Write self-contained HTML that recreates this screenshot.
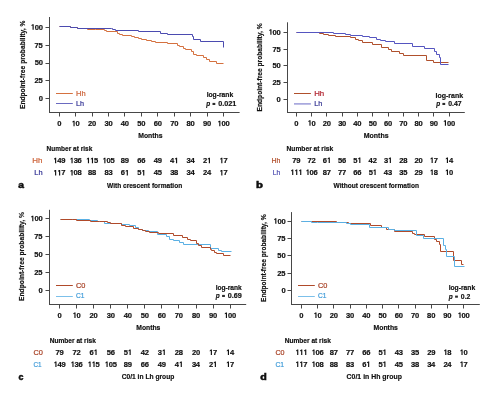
<!DOCTYPE html>
<html><head><meta charset="utf-8"><style>
html,body{margin:0;padding:0;background:#fff;}
svg{display:block;will-change:transform;}
text{font-family:"Liberation Sans",sans-serif;}
text{stroke:currentColor;stroke-width:0.2px;}
</style></head><body>
<svg width="499" height="401" viewBox="0 0 499 401">
<rect width="499" height="401" fill="#fff"/>
<line x1="49.50" y1="17.00" x2="49.50" y2="113.00" stroke="#474747" stroke-width="1.0"/>
<line x1="49.00" y1="112.50" x2="239.60" y2="112.50" stroke="#474747" stroke-width="1.0"/>
<line x1="45.50" y1="27.50" x2="49.50" y2="27.50" stroke="#474747" stroke-width="1.0"/>
<path d="M32.54,29.75 L32.54,25.50 L31.49,26.10 L31.49,25.10 L32.64,24.25 L33.69,24.25 L33.69,29.75 Z" fill="#111"/>
<text transform="translate(34.69,29.75) scale(0.950,1)" font-size="8.0" fill="#111" color="#111" font-weight="bold">0</text>
<text transform="translate(38.69,29.75) scale(0.950,1)" font-size="8.0" fill="#111" color="#111" font-weight="bold">0</text>
<line x1="45.50" y1="45.50" x2="49.50" y2="45.50" stroke="#474747" stroke-width="1.0"/>
<text transform="translate(34.60,47.60) scale(0.950,1)" font-size="8.0" fill="#111" color="#111" font-weight="bold">7</text>
<text transform="translate(38.59,47.60) scale(0.950,1)" font-size="8.0" fill="#111" color="#111" font-weight="bold">5</text>
<line x1="45.50" y1="63.50" x2="49.50" y2="63.50" stroke="#474747" stroke-width="1.0"/>
<text transform="translate(34.67,65.45) scale(0.950,1)" font-size="8.0" fill="#111" color="#111" font-weight="bold">5</text>
<text transform="translate(38.69,65.45) scale(0.950,1)" font-size="8.0" fill="#111" color="#111" font-weight="bold">0</text>
<line x1="45.50" y1="80.50" x2="49.50" y2="80.50" stroke="#474747" stroke-width="1.0"/>
<text transform="translate(34.62,83.30) scale(0.950,1)" font-size="8.0" fill="#111" color="#111" font-weight="bold">2</text>
<text transform="translate(38.59,83.30) scale(0.950,1)" font-size="8.0" fill="#111" color="#111" font-weight="bold">5</text>
<line x1="45.50" y1="98.50" x2="49.50" y2="98.50" stroke="#474747" stroke-width="1.0"/>
<text transform="translate(38.69,101.15) scale(0.950,1)" font-size="8.0" fill="#111" color="#111" font-weight="bold">0</text>
<line x1="59.50" y1="112.50" x2="59.50" y2="116.50" stroke="#474747" stroke-width="1.0"/>
<text transform="translate(57.19,126.20) scale(0.950,1)" font-size="8.0" fill="#111" color="#111" font-weight="bold">0</text>
<line x1="75.50" y1="112.50" x2="75.50" y2="116.50" stroke="#474747" stroke-width="1.0"/>
<path d="M73.47,126.20 L73.47,121.95 L72.42,122.55 L72.42,121.55 L73.57,120.70 L74.62,120.70 L74.62,126.20 Z" fill="#111"/>
<text transform="translate(75.61,126.20) scale(0.950,1)" font-size="8.0" fill="#111" color="#111" font-weight="bold">0</text>
<line x1="92.50" y1="112.50" x2="92.50" y2="116.50" stroke="#474747" stroke-width="1.0"/>
<text transform="translate(88.05,126.20) scale(0.950,1)" font-size="8.0" fill="#111" color="#111" font-weight="bold">2</text>
<text transform="translate(92.03,126.20) scale(0.950,1)" font-size="8.0" fill="#111" color="#111" font-weight="bold">0</text>
<line x1="108.50" y1="112.50" x2="108.50" y2="116.50" stroke="#474747" stroke-width="1.0"/>
<text transform="translate(104.50,126.20) scale(0.950,1)" font-size="8.0" fill="#111" color="#111" font-weight="bold">3</text>
<text transform="translate(108.45,126.20) scale(0.950,1)" font-size="8.0" fill="#111" color="#111" font-weight="bold">0</text>
<line x1="124.50" y1="112.50" x2="124.50" y2="116.50" stroke="#474747" stroke-width="1.0"/>
<text transform="translate(120.83,126.20) scale(0.950,1)" font-size="8.0" fill="#111" color="#111" font-weight="bold">4</text>
<text transform="translate(124.87,126.20) scale(0.950,1)" font-size="8.0" fill="#111" color="#111" font-weight="bold">0</text>
<line x1="141.50" y1="112.50" x2="141.50" y2="116.50" stroke="#474747" stroke-width="1.0"/>
<text transform="translate(137.28,126.20) scale(0.950,1)" font-size="8.0" fill="#111" color="#111" font-weight="bold">5</text>
<text transform="translate(141.29,126.20) scale(0.950,1)" font-size="8.0" fill="#111" color="#111" font-weight="bold">0</text>
<line x1="157.50" y1="112.50" x2="157.50" y2="116.50" stroke="#474747" stroke-width="1.0"/>
<text transform="translate(153.70,126.20) scale(0.950,1)" font-size="8.0" fill="#111" color="#111" font-weight="bold">6</text>
<text transform="translate(157.71,126.20) scale(0.950,1)" font-size="8.0" fill="#111" color="#111" font-weight="bold">0</text>
<line x1="174.50" y1="112.50" x2="174.50" y2="116.50" stroke="#474747" stroke-width="1.0"/>
<text transform="translate(170.13,126.20) scale(0.950,1)" font-size="8.0" fill="#111" color="#111" font-weight="bold">7</text>
<text transform="translate(174.13,126.20) scale(0.950,1)" font-size="8.0" fill="#111" color="#111" font-weight="bold">0</text>
<line x1="190.50" y1="112.50" x2="190.50" y2="116.50" stroke="#474747" stroke-width="1.0"/>
<text transform="translate(186.54,126.20) scale(0.950,1)" font-size="8.0" fill="#111" color="#111" font-weight="bold">8</text>
<text transform="translate(190.55,126.20) scale(0.950,1)" font-size="8.0" fill="#111" color="#111" font-weight="bold">0</text>
<line x1="207.50" y1="112.50" x2="207.50" y2="116.50" stroke="#474747" stroke-width="1.0"/>
<text transform="translate(202.97,126.20) scale(0.950,1)" font-size="8.0" fill="#111" color="#111" font-weight="bold">9</text>
<text transform="translate(206.97,126.20) scale(0.950,1)" font-size="8.0" fill="#111" color="#111" font-weight="bold">0</text>
<line x1="223.50" y1="112.50" x2="223.50" y2="116.50" stroke="#474747" stroke-width="1.0"/>
<path d="M219.25,126.20 L219.25,121.95 L218.20,122.55 L218.20,121.55 L219.35,120.70 L220.40,120.70 L220.40,126.20 Z" fill="#111"/>
<text transform="translate(221.39,126.20) scale(0.950,1)" font-size="8.0" fill="#111" color="#111" font-weight="bold">0</text>
<text transform="translate(225.39,126.20) scale(0.950,1)" font-size="8.0" fill="#111" color="#111" font-weight="bold">0</text>
<text transform="translate(24.60,109.05) rotate(-90) scale(0.834,1)" font-size="8.0" fill="#111" color="#111" font-weight="bold">Endpoint-free probability, %</text>
<text transform="translate(138.24,137.70) scale(0.856,1)" font-size="8.0" fill="#111" color="#111" font-weight="bold">Months</text>
<text transform="translate(46.56,151.20) scale(0.818,1)" font-size="8.0" fill="#111" color="#111" font-weight="bold">Number at risk</text>
<text transform="translate(32.35,163.30) scale(0.995,1)" font-size="8.0" fill="#cc6035" color="#cc6035">Hh</text>
<path d="M55.05,163.30 L55.05,159.05 L54.00,159.65 L54.00,158.65 L55.15,157.80 L56.20,157.80 L56.20,163.30 Z" fill="#111"/>
<text transform="translate(57.15,163.30) scale(0.950,1)" font-size="8.0" fill="#111" color="#111" font-weight="bold">4</text>
<text transform="translate(61.19,163.30) scale(0.950,1)" font-size="8.0" fill="#111" color="#111" font-weight="bold">9</text>
<path d="M71.47,163.30 L71.47,159.05 L70.42,159.65 L70.42,158.65 L71.57,157.80 L72.62,157.80 L72.62,163.30 Z" fill="#111"/>
<text transform="translate(73.66,163.30) scale(0.950,1)" font-size="8.0" fill="#111" color="#111" font-weight="bold">3</text>
<text transform="translate(77.60,163.30) scale(0.950,1)" font-size="8.0" fill="#111" color="#111" font-weight="bold">6</text>
<path d="M87.89,163.30 L87.89,159.05 L86.84,159.65 L86.84,158.65 L87.99,157.80 L89.04,157.80 L89.04,163.30 Z" fill="#111"/>
<path d="M91.89,163.30 L91.89,159.05 L90.84,159.65 L90.84,158.65 L91.99,157.80 L93.04,157.80 L93.04,163.30 Z" fill="#111"/>
<text transform="translate(94.02,163.30) scale(0.950,1)" font-size="8.0" fill="#111" color="#111" font-weight="bold">5</text>
<path d="M104.31,163.30 L104.31,159.05 L103.26,159.65 L103.26,158.65 L104.41,157.80 L105.46,157.80 L105.46,163.30 Z" fill="#111"/>
<text transform="translate(106.45,163.30) scale(0.950,1)" font-size="8.0" fill="#111" color="#111" font-weight="bold">0</text>
<text transform="translate(110.44,163.30) scale(0.950,1)" font-size="8.0" fill="#111" color="#111" font-weight="bold">5</text>
<text transform="translate(120.86,163.30) scale(0.950,1)" font-size="8.0" fill="#111" color="#111" font-weight="bold">8</text>
<text transform="translate(124.87,163.30) scale(0.950,1)" font-size="8.0" fill="#111" color="#111" font-weight="bold">9</text>
<text transform="translate(137.28,163.30) scale(0.950,1)" font-size="8.0" fill="#111" color="#111" font-weight="bold">6</text>
<text transform="translate(141.28,163.30) scale(0.950,1)" font-size="8.0" fill="#111" color="#111" font-weight="bold">6</text>
<text transform="translate(153.67,163.30) scale(0.950,1)" font-size="8.0" fill="#111" color="#111" font-weight="bold">4</text>
<text transform="translate(157.71,163.30) scale(0.950,1)" font-size="8.0" fill="#111" color="#111" font-weight="bold">9</text>
<text transform="translate(170.09,163.30) scale(0.950,1)" font-size="8.0" fill="#111" color="#111" font-weight="bold">4</text>
<path d="M175.99,163.30 L175.99,159.05 L174.94,159.65 L174.94,158.65 L176.09,157.80 L177.14,157.80 L177.14,163.30 Z" fill="#111"/>
<text transform="translate(186.60,163.30) scale(0.950,1)" font-size="8.0" fill="#111" color="#111" font-weight="bold">3</text>
<text transform="translate(190.51,163.30) scale(0.950,1)" font-size="8.0" fill="#111" color="#111" font-weight="bold">4</text>
<text transform="translate(202.99,163.30) scale(0.950,1)" font-size="8.0" fill="#111" color="#111" font-weight="bold">2</text>
<path d="M208.83,163.30 L208.83,159.05 L207.78,159.65 L207.78,158.65 L208.93,157.80 L209.98,157.80 L209.98,163.30 Z" fill="#111"/>
<path d="M221.25,163.30 L221.25,159.05 L220.20,159.65 L220.20,158.65 L221.35,157.80 L222.40,157.80 L222.40,163.30 Z" fill="#111"/>
<text transform="translate(223.39,163.30) scale(0.950,1)" font-size="8.0" fill="#111" color="#111" font-weight="bold">7</text>
<text transform="translate(34.29,175.40) scale(0.933,1)" font-size="8.0" fill="#2e2e92" color="#2e2e92">Lh</text>
<path d="M55.05,175.40 L55.05,171.15 L54.00,171.75 L54.00,170.75 L55.15,169.90 L56.20,169.90 L56.20,175.40 Z" fill="#111"/>
<path d="M59.05,175.40 L59.05,171.15 L58.00,171.75 L58.00,170.75 L59.15,169.90 L60.20,169.90 L60.20,175.40 Z" fill="#111"/>
<text transform="translate(61.19,175.40) scale(0.950,1)" font-size="8.0" fill="#111" color="#111" font-weight="bold">7</text>
<path d="M71.47,175.40 L71.47,171.15 L70.42,171.75 L70.42,170.75 L71.57,169.90 L72.62,169.90 L72.62,175.40 Z" fill="#111"/>
<text transform="translate(73.61,175.40) scale(0.950,1)" font-size="8.0" fill="#111" color="#111" font-weight="bold">0</text>
<text transform="translate(77.60,175.40) scale(0.950,1)" font-size="8.0" fill="#111" color="#111" font-weight="bold">8</text>
<text transform="translate(88.02,175.40) scale(0.950,1)" font-size="8.0" fill="#111" color="#111" font-weight="bold">8</text>
<text transform="translate(92.02,175.40) scale(0.950,1)" font-size="8.0" fill="#111" color="#111" font-weight="bold">8</text>
<text transform="translate(104.44,175.40) scale(0.950,1)" font-size="8.0" fill="#111" color="#111" font-weight="bold">8</text>
<text transform="translate(108.50,175.40) scale(0.950,1)" font-size="8.0" fill="#111" color="#111" font-weight="bold">3</text>
<text transform="translate(120.86,175.40) scale(0.950,1)" font-size="8.0" fill="#111" color="#111" font-weight="bold">6</text>
<path d="M126.73,175.40 L126.73,171.15 L125.68,171.75 L125.68,170.75 L126.83,169.90 L127.88,169.90 L127.88,175.40 Z" fill="#111"/>
<text transform="translate(137.28,175.40) scale(0.950,1)" font-size="8.0" fill="#111" color="#111" font-weight="bold">5</text>
<path d="M143.15,175.40 L143.15,171.15 L142.10,171.75 L142.10,170.75 L143.25,169.90 L144.30,169.90 L144.30,175.40 Z" fill="#111"/>
<text transform="translate(153.67,175.40) scale(0.950,1)" font-size="8.0" fill="#111" color="#111" font-weight="bold">4</text>
<text transform="translate(157.70,175.40) scale(0.950,1)" font-size="8.0" fill="#111" color="#111" font-weight="bold">5</text>
<text transform="translate(170.18,175.40) scale(0.950,1)" font-size="8.0" fill="#111" color="#111" font-weight="bold">3</text>
<text transform="translate(174.12,175.40) scale(0.950,1)" font-size="8.0" fill="#111" color="#111" font-weight="bold">8</text>
<text transform="translate(186.60,175.40) scale(0.950,1)" font-size="8.0" fill="#111" color="#111" font-weight="bold">3</text>
<text transform="translate(190.51,175.40) scale(0.950,1)" font-size="8.0" fill="#111" color="#111" font-weight="bold">4</text>
<text transform="translate(202.99,175.40) scale(0.950,1)" font-size="8.0" fill="#111" color="#111" font-weight="bold">2</text>
<text transform="translate(206.93,175.40) scale(0.950,1)" font-size="8.0" fill="#111" color="#111" font-weight="bold">4</text>
<path d="M221.25,175.40 L221.25,171.15 L220.20,171.75 L220.20,170.75 L221.35,169.90 L222.40,169.90 L222.40,175.40 Z" fill="#111"/>
<text transform="translate(223.39,175.40) scale(0.950,1)" font-size="8.0" fill="#111" color="#111" font-weight="bold">7</text>
<text transform="translate(18.20,188.00) scale(1.073,1)" font-size="9.6" fill="#111" color="#111" font-weight="bold" style="stroke-width:0.55px">a</text>
<text transform="translate(106.99,188.20) scale(0.824,1)" font-size="8.0" fill="#111" color="#111" font-weight="bold">With crescent formation</text>
<line x1="56.00" y1="93.50" x2="72.80" y2="93.50" stroke="#d5713f" stroke-width="1.0"/>
<text transform="translate(75.98,95.80) scale(0.939,1)" font-size="8.0" fill="#cc6035" color="#cc6035">Hh</text>
<line x1="56.00" y1="103.50" x2="72.80" y2="103.50" stroke="#6a6ac0" stroke-width="1.0"/>
<text transform="translate(76.01,106.00) scale(0.907,1)" font-size="8.0" fill="#2e2e92" color="#2e2e92">Lh</text>
<text transform="translate(206.63,97.40) scale(0.842,1)" font-size="8.0" fill="#111" color="#111" font-weight="bold">log-rank</text>
<text transform="translate(206.24,106.00) scale(0.811,1)" font-size="8.0" fill="#111" color="#111" font-weight="bold" font-style="italic">p</text>
<rect x="212.50" y="102.90" width="2.8" height="2.1" fill="#2a2a2a"/>
<text transform="translate(218.22,106.00) scale(0.909,1)" font-size="8.0" fill="#111" color="#111" font-weight="bold">0.021</text>
<polyline points="59.50,26.50 70.50,26.50 70.50,27.50 77.50,27.50 77.50,28.50 87.50,28.50 87.50,29.50 95.50,29.50 95.50,29.50 104.50,29.50 104.50,30.50 106.50,30.50 106.50,31.50 117.50,31.50 117.50,33.50 119.50,33.50 119.50,34.50 122.50,34.50 122.50,35.50 131.50,35.50 131.50,36.50 134.50,36.50 134.50,37.50 138.50,37.50 138.50,38.50 141.50,38.50 141.50,39.50 146.50,39.50 146.50,40.50 151.50,40.50 151.50,41.50 155.50,41.50 155.50,42.50 167.50,42.50 167.50,43.50 177.50,43.50 177.50,45.50 179.50,45.50 179.50,46.50 183.50,46.50 183.50,48.50 185.50,48.50 185.50,49.50 191.50,49.50 191.50,51.50 193.50,51.50 193.50,54.50 196.50,54.50 196.50,55.50 203.50,55.50 203.50,57.50 206.50,57.50 206.50,59.50 209.50,59.50 209.50,61.50 216.50,61.50 216.50,63.50 223.50,63.50 223.50,63.50" fill="none" stroke="#d5713f" stroke-width="1.0" stroke-linejoin="miter"/>
<polyline points="59.50,26.50 70.50,26.50 70.50,27.50 77.50,27.50 77.50,28.50 111.50,28.50 111.50,28.50 112.50,28.50 112.50,29.50 115.50,29.50 115.50,30.50 138.50,30.50 138.50,31.50 160.50,31.50 160.50,33.50 167.50,33.50 167.50,34.50 192.50,34.50 192.50,36.50 193.50,36.50 193.50,39.50 200.50,39.50 200.50,41.50 223.50,41.50 223.50,47.50 223.50,47.50 223.50,47.50" fill="none" stroke="#4b4bb0" stroke-width="1.0" stroke-linejoin="miter"/>
<line x1="287.50" y1="22.30" x2="287.50" y2="113.00" stroke="#474747" stroke-width="1.0"/>
<line x1="287.00" y1="112.50" x2="464.80" y2="112.50" stroke="#474747" stroke-width="1.0"/>
<line x1="283.50" y1="32.50" x2="287.50" y2="32.50" stroke="#474747" stroke-width="1.0"/>
<path d="M270.34,34.75 L270.34,30.50 L269.29,31.10 L269.29,30.10 L270.44,29.25 L271.49,29.25 L271.49,34.75 Z" fill="#111"/>
<text transform="translate(272.49,34.75) scale(0.950,1)" font-size="8.0" fill="#111" color="#111" font-weight="bold">0</text>
<text transform="translate(276.49,34.75) scale(0.950,1)" font-size="8.0" fill="#111" color="#111" font-weight="bold">0</text>
<line x1="283.50" y1="49.50" x2="287.50" y2="49.50" stroke="#474747" stroke-width="1.0"/>
<text transform="translate(272.40,51.55) scale(0.950,1)" font-size="8.0" fill="#111" color="#111" font-weight="bold">7</text>
<text transform="translate(276.39,51.55) scale(0.950,1)" font-size="8.0" fill="#111" color="#111" font-weight="bold">5</text>
<line x1="283.50" y1="65.50" x2="287.50" y2="65.50" stroke="#474747" stroke-width="1.0"/>
<text transform="translate(272.47,68.35) scale(0.950,1)" font-size="8.0" fill="#111" color="#111" font-weight="bold">5</text>
<text transform="translate(276.49,68.35) scale(0.950,1)" font-size="8.0" fill="#111" color="#111" font-weight="bold">0</text>
<line x1="283.50" y1="82.50" x2="287.50" y2="82.50" stroke="#474747" stroke-width="1.0"/>
<text transform="translate(272.42,85.15) scale(0.950,1)" font-size="8.0" fill="#111" color="#111" font-weight="bold">2</text>
<text transform="translate(276.39,85.15) scale(0.950,1)" font-size="8.0" fill="#111" color="#111" font-weight="bold">5</text>
<line x1="283.50" y1="99.50" x2="287.50" y2="99.50" stroke="#474747" stroke-width="1.0"/>
<text transform="translate(276.49,101.95) scale(0.950,1)" font-size="8.0" fill="#111" color="#111" font-weight="bold">0</text>
<line x1="296.50" y1="112.50" x2="296.50" y2="116.50" stroke="#474747" stroke-width="1.0"/>
<text transform="translate(294.29,125.70) scale(0.950,1)" font-size="8.0" fill="#111" color="#111" font-weight="bold">0</text>
<line x1="311.50" y1="112.50" x2="311.50" y2="116.50" stroke="#474747" stroke-width="1.0"/>
<path d="M309.42,125.70 L309.42,121.45 L308.37,122.05 L308.37,121.05 L309.52,120.20 L310.57,120.20 L310.57,125.70 Z" fill="#111"/>
<text transform="translate(311.56,125.70) scale(0.950,1)" font-size="8.0" fill="#111" color="#111" font-weight="bold">0</text>
<line x1="326.50" y1="112.50" x2="326.50" y2="116.50" stroke="#474747" stroke-width="1.0"/>
<text transform="translate(322.85,125.70) scale(0.950,1)" font-size="8.0" fill="#111" color="#111" font-weight="bold">2</text>
<text transform="translate(326.83,125.70) scale(0.950,1)" font-size="8.0" fill="#111" color="#111" font-weight="bold">0</text>
<line x1="342.50" y1="112.50" x2="342.50" y2="116.50" stroke="#474747" stroke-width="1.0"/>
<text transform="translate(338.15,125.70) scale(0.950,1)" font-size="8.0" fill="#111" color="#111" font-weight="bold">3</text>
<text transform="translate(342.10,125.70) scale(0.950,1)" font-size="8.0" fill="#111" color="#111" font-weight="bold">0</text>
<line x1="357.50" y1="112.50" x2="357.50" y2="116.50" stroke="#474747" stroke-width="1.0"/>
<text transform="translate(353.33,125.70) scale(0.950,1)" font-size="8.0" fill="#111" color="#111" font-weight="bold">4</text>
<text transform="translate(357.37,125.70) scale(0.950,1)" font-size="8.0" fill="#111" color="#111" font-weight="bold">0</text>
<line x1="372.50" y1="112.50" x2="372.50" y2="116.50" stroke="#474747" stroke-width="1.0"/>
<text transform="translate(368.63,125.70) scale(0.950,1)" font-size="8.0" fill="#111" color="#111" font-weight="bold">5</text>
<text transform="translate(372.64,125.70) scale(0.950,1)" font-size="8.0" fill="#111" color="#111" font-weight="bold">0</text>
<line x1="388.50" y1="112.50" x2="388.50" y2="116.50" stroke="#474747" stroke-width="1.0"/>
<text transform="translate(383.90,125.70) scale(0.950,1)" font-size="8.0" fill="#111" color="#111" font-weight="bold">6</text>
<text transform="translate(387.91,125.70) scale(0.950,1)" font-size="8.0" fill="#111" color="#111" font-weight="bold">0</text>
<line x1="403.50" y1="112.50" x2="403.50" y2="116.50" stroke="#474747" stroke-width="1.0"/>
<text transform="translate(399.18,125.70) scale(0.950,1)" font-size="8.0" fill="#111" color="#111" font-weight="bold">7</text>
<text transform="translate(403.18,125.70) scale(0.950,1)" font-size="8.0" fill="#111" color="#111" font-weight="bold">0</text>
<line x1="418.50" y1="112.50" x2="418.50" y2="116.50" stroke="#474747" stroke-width="1.0"/>
<text transform="translate(414.44,125.70) scale(0.950,1)" font-size="8.0" fill="#111" color="#111" font-weight="bold">8</text>
<text transform="translate(418.45,125.70) scale(0.950,1)" font-size="8.0" fill="#111" color="#111" font-weight="bold">0</text>
<line x1="433.50" y1="112.50" x2="433.50" y2="116.50" stroke="#474747" stroke-width="1.0"/>
<text transform="translate(429.72,125.70) scale(0.950,1)" font-size="8.0" fill="#111" color="#111" font-weight="bold">9</text>
<text transform="translate(433.72,125.70) scale(0.950,1)" font-size="8.0" fill="#111" color="#111" font-weight="bold">0</text>
<line x1="449.50" y1="112.50" x2="449.50" y2="116.50" stroke="#474747" stroke-width="1.0"/>
<path d="M444.85,125.70 L444.85,121.45 L443.80,122.05 L443.80,121.05 L444.95,120.20 L446.00,120.20 L446.00,125.70 Z" fill="#111"/>
<text transform="translate(446.99,125.70) scale(0.950,1)" font-size="8.0" fill="#111" color="#111" font-weight="bold">0</text>
<text transform="translate(450.99,125.70) scale(0.950,1)" font-size="8.0" fill="#111" color="#111" font-weight="bold">0</text>
<text transform="translate(262.40,111.45) rotate(-90) scale(0.831,1)" font-size="8.0" fill="#111" color="#111" font-weight="bold">Endpoint-free probability, %</text>
<text transform="translate(363.73,138.20) scale(0.874,1)" font-size="8.0" fill="#111" color="#111" font-weight="bold">Months</text>
<text transform="translate(286.55,151.10) scale(0.834,1)" font-size="8.0" fill="#111" color="#111" font-weight="bold">Number at risk</text>
<text transform="translate(271.43,163.10) scale(0.873,1)" font-size="8.0" fill="#b04a26" color="#b04a26">Hh</text>
<text transform="translate(292.29,163.10) scale(0.950,1)" font-size="8.0" fill="#111" color="#111" font-weight="bold">7</text>
<text transform="translate(296.29,163.10) scale(0.950,1)" font-size="8.0" fill="#111" color="#111" font-weight="bold">9</text>
<text transform="translate(307.56,163.10) scale(0.950,1)" font-size="8.0" fill="#111" color="#111" font-weight="bold">7</text>
<text transform="translate(311.58,163.10) scale(0.950,1)" font-size="8.0" fill="#111" color="#111" font-weight="bold">2</text>
<text transform="translate(322.82,163.10) scale(0.950,1)" font-size="8.0" fill="#111" color="#111" font-weight="bold">6</text>
<path d="M328.69,163.10 L328.69,158.85 L327.64,159.45 L327.64,158.45 L328.79,157.60 L329.84,157.60 L329.84,163.10 Z" fill="#111"/>
<text transform="translate(338.09,163.10) scale(0.950,1)" font-size="8.0" fill="#111" color="#111" font-weight="bold">5</text>
<text transform="translate(342.09,163.10) scale(0.950,1)" font-size="8.0" fill="#111" color="#111" font-weight="bold">6</text>
<text transform="translate(353.36,163.10) scale(0.950,1)" font-size="8.0" fill="#111" color="#111" font-weight="bold">5</text>
<path d="M359.23,163.10 L359.23,158.85 L358.18,159.45 L358.18,158.45 L359.33,157.60 L360.38,157.60 L360.38,163.10 Z" fill="#111"/>
<text transform="translate(368.60,163.10) scale(0.950,1)" font-size="8.0" fill="#111" color="#111" font-weight="bold">4</text>
<text transform="translate(372.66,163.10) scale(0.950,1)" font-size="8.0" fill="#111" color="#111" font-weight="bold">2</text>
<text transform="translate(383.96,163.10) scale(0.950,1)" font-size="8.0" fill="#111" color="#111" font-weight="bold">3</text>
<path d="M389.77,163.10 L389.77,158.85 L388.72,159.45 L388.72,158.45 L389.87,157.60 L390.92,157.60 L390.92,163.10 Z" fill="#111"/>
<text transform="translate(399.20,163.10) scale(0.950,1)" font-size="8.0" fill="#111" color="#111" font-weight="bold">2</text>
<text transform="translate(403.17,163.10) scale(0.950,1)" font-size="8.0" fill="#111" color="#111" font-weight="bold">8</text>
<text transform="translate(414.47,163.10) scale(0.950,1)" font-size="8.0" fill="#111" color="#111" font-weight="bold">2</text>
<text transform="translate(418.45,163.10) scale(0.950,1)" font-size="8.0" fill="#111" color="#111" font-weight="bold">0</text>
<path d="M431.58,163.10 L431.58,158.85 L430.53,159.45 L430.53,158.45 L431.68,157.60 L432.73,157.60 L432.73,163.10 Z" fill="#111"/>
<text transform="translate(433.72,163.10) scale(0.950,1)" font-size="8.0" fill="#111" color="#111" font-weight="bold">7</text>
<path d="M446.85,163.10 L446.85,158.85 L445.80,159.45 L445.80,158.45 L446.95,157.60 L448.00,157.60 L448.00,163.10 Z" fill="#111"/>
<text transform="translate(448.95,163.10) scale(0.950,1)" font-size="8.0" fill="#111" color="#111" font-weight="bold">4</text>
<text transform="translate(272.76,175.10) scale(0.829,1)" font-size="8.0" fill="#4646ae" color="#4646ae">Lh</text>
<path d="M292.15,175.10 L292.15,170.85 L291.10,171.45 L291.10,170.45 L292.25,169.60 L293.30,169.60 L293.30,175.10 Z" fill="#111"/>
<path d="M296.15,175.10 L296.15,170.85 L295.10,171.45 L295.10,170.45 L296.25,169.60 L297.30,169.60 L297.30,175.10 Z" fill="#111"/>
<path d="M300.15,175.10 L300.15,170.85 L299.10,171.45 L299.10,170.45 L300.25,169.60 L301.30,169.60 L301.30,175.10 Z" fill="#111"/>
<path d="M307.42,175.10 L307.42,170.85 L306.37,171.45 L306.37,170.45 L307.52,169.60 L308.57,169.60 L308.57,175.10 Z" fill="#111"/>
<text transform="translate(309.56,175.10) scale(0.950,1)" font-size="8.0" fill="#111" color="#111" font-weight="bold">0</text>
<text transform="translate(313.55,175.10) scale(0.950,1)" font-size="8.0" fill="#111" color="#111" font-weight="bold">6</text>
<text transform="translate(322.82,175.10) scale(0.950,1)" font-size="8.0" fill="#111" color="#111" font-weight="bold">8</text>
<text transform="translate(326.83,175.10) scale(0.950,1)" font-size="8.0" fill="#111" color="#111" font-weight="bold">7</text>
<text transform="translate(338.10,175.10) scale(0.950,1)" font-size="8.0" fill="#111" color="#111" font-weight="bold">7</text>
<text transform="translate(342.10,175.10) scale(0.950,1)" font-size="8.0" fill="#111" color="#111" font-weight="bold">7</text>
<text transform="translate(353.36,175.10) scale(0.950,1)" font-size="8.0" fill="#111" color="#111" font-weight="bold">6</text>
<text transform="translate(357.36,175.10) scale(0.950,1)" font-size="8.0" fill="#111" color="#111" font-weight="bold">6</text>
<text transform="translate(368.63,175.10) scale(0.950,1)" font-size="8.0" fill="#111" color="#111" font-weight="bold">5</text>
<path d="M374.50,175.10 L374.50,170.85 L373.45,171.45 L373.45,170.45 L374.60,169.60 L375.65,169.60 L375.65,175.10 Z" fill="#111"/>
<text transform="translate(383.87,175.10) scale(0.950,1)" font-size="8.0" fill="#111" color="#111" font-weight="bold">4</text>
<text transform="translate(387.96,175.10) scale(0.950,1)" font-size="8.0" fill="#111" color="#111" font-weight="bold">3</text>
<text transform="translate(399.23,175.10) scale(0.950,1)" font-size="8.0" fill="#111" color="#111" font-weight="bold">3</text>
<text transform="translate(403.17,175.10) scale(0.950,1)" font-size="8.0" fill="#111" color="#111" font-weight="bold">5</text>
<text transform="translate(414.47,175.10) scale(0.950,1)" font-size="8.0" fill="#111" color="#111" font-weight="bold">2</text>
<text transform="translate(418.45,175.10) scale(0.950,1)" font-size="8.0" fill="#111" color="#111" font-weight="bold">9</text>
<path d="M431.58,175.10 L431.58,170.85 L430.53,171.45 L430.53,170.45 L431.68,169.60 L432.73,169.60 L432.73,175.10 Z" fill="#111"/>
<text transform="translate(433.71,175.10) scale(0.950,1)" font-size="8.0" fill="#111" color="#111" font-weight="bold">8</text>
<path d="M446.85,175.10 L446.85,170.85 L445.80,171.45 L445.80,170.45 L446.95,169.60 L448.00,169.60 L448.00,175.10 Z" fill="#111"/>
<text transform="translate(448.99,175.10) scale(0.950,1)" font-size="8.0" fill="#111" color="#111" font-weight="bold">0</text>
<text transform="translate(256.05,188.10) scale(1.178,1)" font-size="9.6" fill="#111" color="#111" font-weight="bold" style="stroke-width:0.55px">b</text>
<text transform="translate(333.59,188.00) scale(0.823,1)" font-size="8.0" fill="#111" color="#111" font-weight="bold">Without crescent formation</text>
<line x1="294.00" y1="93.50" x2="310.90" y2="93.50" stroke="#b0502c" stroke-width="1.0"/>
<text transform="translate(314.15,95.80) scale(0.984,1)" font-size="8.0" fill="#b0202c" color="#b0202c">Hh</text>
<line x1="294.00" y1="103.90" x2="310.90" y2="103.90" stroke="#9494d6" stroke-width="1.4"/>
<text transform="translate(314.21,106.00) scale(0.894,1)" font-size="8.0" fill="#2a2a8c" color="#2a2a8c">Lh</text>
<text transform="translate(435.51,98.00) scale(0.874,1)" font-size="8.0" fill="#111" color="#111" font-weight="bold">log-rank</text>
<text transform="translate(436.14,106.00) scale(0.811,1)" font-size="8.0" fill="#111" color="#111" font-weight="bold" font-style="italic">p</text>
<rect x="442.40" y="102.90" width="2.8" height="2.1" fill="#2a2a2a"/>
<text transform="translate(448.13,106.00) scale(0.866,1)" font-size="8.0" fill="#111" color="#111" font-weight="bold">0.47</text>
<polyline points="296.50,32.50 319.50,32.50 319.50,33.50 323.50,33.50 323.50,34.50 328.50,34.50 328.50,35.50 335.50,35.50 335.50,36.50 350.50,36.50 350.50,37.50 355.50,37.50 355.50,39.50 358.50,39.50 358.50,40.50 362.50,40.50 362.50,42.50 372.50,42.50 372.50,44.50 381.50,44.50 381.50,47.50 388.50,47.50 388.50,49.50 391.50,49.50 391.50,51.50 399.50,51.50 399.50,53.50 403.50,53.50 403.50,55.50 426.50,55.50 426.50,60.50 433.50,60.50 433.50,62.50 448.50,62.50 448.50,62.50" fill="none" stroke="#b0502c" stroke-width="1.0" stroke-linejoin="miter"/>
<polyline points="296.50,32.50 333.50,32.50 333.50,33.50 345.50,33.50 345.50,34.50 350.50,34.50 350.50,35.50 362.50,35.50 362.50,36.50 369.50,36.50 369.50,37.50 376.50,37.50 376.50,39.50 380.50,39.50 380.50,40.50 385.50,40.50 385.50,41.50 394.50,41.50 394.50,43.50 412.50,43.50 412.50,46.50 424.50,46.50 424.50,48.50 434.50,48.50 434.50,51.50 436.50,51.50 436.50,54.50 439.50,54.50 439.50,57.50 440.50,57.50 440.50,64.50 448.50,64.50 448.50,64.50" fill="none" stroke="#5555c0" stroke-width="1.0" stroke-linejoin="miter"/>
<line x1="49.50" y1="209.80" x2="49.50" y2="305.00" stroke="#474747" stroke-width="1.0"/>
<line x1="49.00" y1="304.50" x2="246.20" y2="304.50" stroke="#474747" stroke-width="1.0"/>
<line x1="45.50" y1="218.50" x2="49.50" y2="218.50" stroke="#474747" stroke-width="1.0"/>
<path d="M32.24,221.25 L32.24,217.00 L31.19,217.60 L31.19,216.60 L32.34,215.75 L33.39,215.75 L33.39,221.25 Z" fill="#111"/>
<text transform="translate(34.39,221.25) scale(0.950,1)" font-size="8.0" fill="#111" color="#111" font-weight="bold">0</text>
<text transform="translate(38.39,221.25) scale(0.950,1)" font-size="8.0" fill="#111" color="#111" font-weight="bold">0</text>
<line x1="45.50" y1="236.50" x2="49.50" y2="236.50" stroke="#474747" stroke-width="1.0"/>
<text transform="translate(34.30,239.18) scale(0.950,1)" font-size="8.0" fill="#111" color="#111" font-weight="bold">7</text>
<text transform="translate(38.29,239.18) scale(0.950,1)" font-size="8.0" fill="#111" color="#111" font-weight="bold">5</text>
<line x1="45.50" y1="254.50" x2="49.50" y2="254.50" stroke="#474747" stroke-width="1.0"/>
<text transform="translate(34.37,257.10) scale(0.950,1)" font-size="8.0" fill="#111" color="#111" font-weight="bold">5</text>
<text transform="translate(38.39,257.10) scale(0.950,1)" font-size="8.0" fill="#111" color="#111" font-weight="bold">0</text>
<line x1="45.50" y1="272.50" x2="49.50" y2="272.50" stroke="#474747" stroke-width="1.0"/>
<text transform="translate(34.32,275.02) scale(0.950,1)" font-size="8.0" fill="#111" color="#111" font-weight="bold">2</text>
<text transform="translate(38.29,275.02) scale(0.950,1)" font-size="8.0" fill="#111" color="#111" font-weight="bold">5</text>
<line x1="45.50" y1="290.50" x2="49.50" y2="290.50" stroke="#474747" stroke-width="1.0"/>
<text transform="translate(38.39,292.95) scale(0.950,1)" font-size="8.0" fill="#111" color="#111" font-weight="bold">0</text>
<line x1="59.50" y1="304.50" x2="59.50" y2="308.50" stroke="#474747" stroke-width="1.0"/>
<text transform="translate(57.49,318.00) scale(0.950,1)" font-size="8.0" fill="#111" color="#111" font-weight="bold">0</text>
<line x1="76.50" y1="304.50" x2="76.50" y2="308.50" stroke="#474747" stroke-width="1.0"/>
<path d="M74.40,318.00 L74.40,313.75 L73.35,314.35 L73.35,313.35 L74.50,312.50 L75.55,312.50 L75.55,318.00 Z" fill="#111"/>
<text transform="translate(76.54,318.00) scale(0.950,1)" font-size="8.0" fill="#111" color="#111" font-weight="bold">0</text>
<line x1="93.50" y1="304.50" x2="93.50" y2="308.50" stroke="#474747" stroke-width="1.0"/>
<text transform="translate(89.61,318.00) scale(0.950,1)" font-size="8.0" fill="#111" color="#111" font-weight="bold">2</text>
<text transform="translate(93.59,318.00) scale(0.950,1)" font-size="8.0" fill="#111" color="#111" font-weight="bold">0</text>
<line x1="110.50" y1="304.50" x2="110.50" y2="308.50" stroke="#474747" stroke-width="1.0"/>
<text transform="translate(106.69,318.00) scale(0.950,1)" font-size="8.0" fill="#111" color="#111" font-weight="bold">3</text>
<text transform="translate(110.64,318.00) scale(0.950,1)" font-size="8.0" fill="#111" color="#111" font-weight="bold">0</text>
<line x1="127.50" y1="304.50" x2="127.50" y2="308.50" stroke="#474747" stroke-width="1.0"/>
<text transform="translate(123.65,318.00) scale(0.950,1)" font-size="8.0" fill="#111" color="#111" font-weight="bold">4</text>
<text transform="translate(127.69,318.00) scale(0.950,1)" font-size="8.0" fill="#111" color="#111" font-weight="bold">0</text>
<line x1="144.50" y1="304.50" x2="144.50" y2="308.50" stroke="#474747" stroke-width="1.0"/>
<text transform="translate(140.73,318.00) scale(0.950,1)" font-size="8.0" fill="#111" color="#111" font-weight="bold">5</text>
<text transform="translate(144.74,318.00) scale(0.950,1)" font-size="8.0" fill="#111" color="#111" font-weight="bold">0</text>
<line x1="161.50" y1="304.50" x2="161.50" y2="308.50" stroke="#474747" stroke-width="1.0"/>
<text transform="translate(157.78,318.00) scale(0.950,1)" font-size="8.0" fill="#111" color="#111" font-weight="bold">6</text>
<text transform="translate(161.79,318.00) scale(0.950,1)" font-size="8.0" fill="#111" color="#111" font-weight="bold">0</text>
<line x1="178.50" y1="304.50" x2="178.50" y2="308.50" stroke="#474747" stroke-width="1.0"/>
<text transform="translate(174.84,318.00) scale(0.950,1)" font-size="8.0" fill="#111" color="#111" font-weight="bold">7</text>
<text transform="translate(178.84,318.00) scale(0.950,1)" font-size="8.0" fill="#111" color="#111" font-weight="bold">0</text>
<line x1="196.50" y1="304.50" x2="196.50" y2="308.50" stroke="#474747" stroke-width="1.0"/>
<text transform="translate(191.88,318.00) scale(0.950,1)" font-size="8.0" fill="#111" color="#111" font-weight="bold">8</text>
<text transform="translate(195.89,318.00) scale(0.950,1)" font-size="8.0" fill="#111" color="#111" font-weight="bold">0</text>
<line x1="213.50" y1="304.50" x2="213.50" y2="308.50" stroke="#474747" stroke-width="1.0"/>
<text transform="translate(208.94,318.00) scale(0.950,1)" font-size="8.0" fill="#111" color="#111" font-weight="bold">9</text>
<text transform="translate(212.94,318.00) scale(0.950,1)" font-size="8.0" fill="#111" color="#111" font-weight="bold">0</text>
<line x1="230.50" y1="304.50" x2="230.50" y2="308.50" stroke="#474747" stroke-width="1.0"/>
<path d="M225.85,318.00 L225.85,313.75 L224.80,314.35 L224.80,313.35 L225.95,312.50 L227.00,312.50 L227.00,318.00 Z" fill="#111"/>
<text transform="translate(227.99,318.00) scale(0.950,1)" font-size="8.0" fill="#111" color="#111" font-weight="bold">0</text>
<text transform="translate(231.99,318.00) scale(0.950,1)" font-size="8.0" fill="#111" color="#111" font-weight="bold">0</text>
<text transform="translate(24.30,300.95) rotate(-90) scale(0.840,1)" font-size="8.0" fill="#111" color="#111" font-weight="bold">Endpoint-free probability, %</text>
<text transform="translate(136.25,330.10) scale(0.849,1)" font-size="8.0" fill="#111" color="#111" font-weight="bold">Months</text>
<text transform="translate(49.66,343.10) scale(0.825,1)" font-size="8.0" fill="#111" color="#111" font-weight="bold">Number at risk</text>
<text transform="translate(33.42,355.10) scale(0.926,1)" font-size="8.0" fill="#a63c1f" color="#a63c1f">C0</text>
<text transform="translate(55.49,355.10) scale(0.950,1)" font-size="8.0" fill="#111" color="#111" font-weight="bold">7</text>
<text transform="translate(59.49,355.10) scale(0.950,1)" font-size="8.0" fill="#111" color="#111" font-weight="bold">9</text>
<text transform="translate(72.54,355.10) scale(0.950,1)" font-size="8.0" fill="#111" color="#111" font-weight="bold">7</text>
<text transform="translate(76.56,355.10) scale(0.950,1)" font-size="8.0" fill="#111" color="#111" font-weight="bold">2</text>
<text transform="translate(89.58,355.10) scale(0.950,1)" font-size="8.0" fill="#111" color="#111" font-weight="bold">6</text>
<path d="M95.45,355.10 L95.45,350.85 L94.40,351.45 L94.40,350.45 L95.55,349.60 L96.60,349.60 L96.60,355.10 Z" fill="#111"/>
<text transform="translate(106.63,355.10) scale(0.950,1)" font-size="8.0" fill="#111" color="#111" font-weight="bold">5</text>
<text transform="translate(110.63,355.10) scale(0.950,1)" font-size="8.0" fill="#111" color="#111" font-weight="bold">6</text>
<text transform="translate(123.68,355.10) scale(0.950,1)" font-size="8.0" fill="#111" color="#111" font-weight="bold">5</text>
<path d="M129.55,355.10 L129.55,350.85 L128.50,351.45 L128.50,350.45 L129.65,349.60 L130.70,349.60 L130.70,355.10 Z" fill="#111"/>
<text transform="translate(140.70,355.10) scale(0.950,1)" font-size="8.0" fill="#111" color="#111" font-weight="bold">4</text>
<text transform="translate(144.76,355.10) scale(0.950,1)" font-size="8.0" fill="#111" color="#111" font-weight="bold">2</text>
<text transform="translate(157.84,355.10) scale(0.950,1)" font-size="8.0" fill="#111" color="#111" font-weight="bold">3</text>
<path d="M163.65,355.10 L163.65,350.85 L162.60,351.45 L162.60,350.45 L163.75,349.60 L164.80,349.60 L164.80,355.10 Z" fill="#111"/>
<text transform="translate(174.86,355.10) scale(0.950,1)" font-size="8.0" fill="#111" color="#111" font-weight="bold">2</text>
<text transform="translate(178.83,355.10) scale(0.950,1)" font-size="8.0" fill="#111" color="#111" font-weight="bold">8</text>
<text transform="translate(191.91,355.10) scale(0.950,1)" font-size="8.0" fill="#111" color="#111" font-weight="bold">2</text>
<text transform="translate(195.89,355.10) scale(0.950,1)" font-size="8.0" fill="#111" color="#111" font-weight="bold">0</text>
<path d="M210.80,355.10 L210.80,350.85 L209.75,351.45 L209.75,350.45 L210.90,349.60 L211.95,349.60 L211.95,355.10 Z" fill="#111"/>
<text transform="translate(212.94,355.10) scale(0.950,1)" font-size="8.0" fill="#111" color="#111" font-weight="bold">7</text>
<path d="M227.85,355.10 L227.85,350.85 L226.80,351.45 L226.80,350.45 L227.95,349.60 L229.00,349.60 L229.00,355.10 Z" fill="#111"/>
<text transform="translate(229.95,355.10) scale(0.950,1)" font-size="8.0" fill="#111" color="#111" font-weight="bold">4</text>
<text transform="translate(33.48,367.10) scale(0.796,1)" font-size="8.0" fill="#3d9ad8" color="#3d9ad8">C1</text>
<path d="M55.35,367.10 L55.35,362.85 L54.30,363.45 L54.30,362.45 L55.45,361.60 L56.50,361.60 L56.50,367.10 Z" fill="#111"/>
<text transform="translate(57.45,367.10) scale(0.950,1)" font-size="8.0" fill="#111" color="#111" font-weight="bold">4</text>
<text transform="translate(61.49,367.10) scale(0.950,1)" font-size="8.0" fill="#111" color="#111" font-weight="bold">9</text>
<path d="M72.40,367.10 L72.40,362.85 L71.35,363.45 L71.35,362.45 L72.50,361.60 L73.55,361.60 L73.55,367.10 Z" fill="#111"/>
<text transform="translate(74.59,367.10) scale(0.950,1)" font-size="8.0" fill="#111" color="#111" font-weight="bold">3</text>
<text transform="translate(78.53,367.10) scale(0.950,1)" font-size="8.0" fill="#111" color="#111" font-weight="bold">6</text>
<path d="M89.45,367.10 L89.45,362.85 L88.40,363.45 L88.40,362.45 L89.55,361.60 L90.60,361.60 L90.60,367.10 Z" fill="#111"/>
<path d="M93.45,367.10 L93.45,362.85 L92.40,363.45 L92.40,362.45 L93.55,361.60 L94.60,361.60 L94.60,367.10 Z" fill="#111"/>
<text transform="translate(95.58,367.10) scale(0.950,1)" font-size="8.0" fill="#111" color="#111" font-weight="bold">5</text>
<path d="M106.50,367.10 L106.50,362.85 L105.45,363.45 L105.45,362.45 L106.60,361.60 L107.65,361.60 L107.65,367.10 Z" fill="#111"/>
<text transform="translate(108.64,367.10) scale(0.950,1)" font-size="8.0" fill="#111" color="#111" font-weight="bold">0</text>
<text transform="translate(112.63,367.10) scale(0.950,1)" font-size="8.0" fill="#111" color="#111" font-weight="bold">5</text>
<text transform="translate(123.68,367.10) scale(0.950,1)" font-size="8.0" fill="#111" color="#111" font-weight="bold">8</text>
<text transform="translate(127.69,367.10) scale(0.950,1)" font-size="8.0" fill="#111" color="#111" font-weight="bold">9</text>
<text transform="translate(140.73,367.10) scale(0.950,1)" font-size="8.0" fill="#111" color="#111" font-weight="bold">6</text>
<text transform="translate(144.73,367.10) scale(0.950,1)" font-size="8.0" fill="#111" color="#111" font-weight="bold">6</text>
<text transform="translate(157.75,367.10) scale(0.950,1)" font-size="8.0" fill="#111" color="#111" font-weight="bold">4</text>
<text transform="translate(161.79,367.10) scale(0.950,1)" font-size="8.0" fill="#111" color="#111" font-weight="bold">9</text>
<text transform="translate(174.80,367.10) scale(0.950,1)" font-size="8.0" fill="#111" color="#111" font-weight="bold">4</text>
<path d="M180.70,367.10 L180.70,362.85 L179.65,363.45 L179.65,362.45 L180.80,361.60 L181.85,361.60 L181.85,367.10 Z" fill="#111"/>
<text transform="translate(191.94,367.10) scale(0.950,1)" font-size="8.0" fill="#111" color="#111" font-weight="bold">3</text>
<text transform="translate(195.85,367.10) scale(0.950,1)" font-size="8.0" fill="#111" color="#111" font-weight="bold">4</text>
<text transform="translate(208.96,367.10) scale(0.950,1)" font-size="8.0" fill="#111" color="#111" font-weight="bold">2</text>
<path d="M214.80,367.10 L214.80,362.85 L213.75,363.45 L213.75,362.45 L214.90,361.60 L215.95,361.60 L215.95,367.10 Z" fill="#111"/>
<path d="M227.85,367.10 L227.85,362.85 L226.80,363.45 L226.80,362.45 L227.95,361.60 L229.00,361.60 L229.00,367.10 Z" fill="#111"/>
<text transform="translate(229.99,367.10) scale(0.950,1)" font-size="8.0" fill="#111" color="#111" font-weight="bold">7</text>
<text transform="translate(18.46,379.90) scale(0.918,1)" font-size="9.6" fill="#111" color="#111" font-weight="bold" style="stroke-width:0.55px">c</text>
<text transform="translate(121.63,378.50) scale(0.837,1)" font-size="8.0" fill="#111" color="#111" font-weight="bold">C0/1 in Lh group</text>
<line x1="56.00" y1="285.50" x2="72.80" y2="285.50" stroke="#b04a2a" stroke-width="1.0"/>
<text transform="translate(75.92,287.70) scale(0.926,1)" font-size="8.0" fill="#a63c1f" color="#a63c1f">C0</text>
<line x1="56.00" y1="296.50" x2="72.80" y2="296.50" stroke="#7cc0ea" stroke-width="1.0"/>
<text transform="translate(75.96,297.80) scale(0.828,1)" font-size="8.0" fill="#3d9ad8" color="#3d9ad8">C1</text>
<text transform="translate(215.64,290.00) scale(0.829,1)" font-size="8.0" fill="#111" color="#111" font-weight="bold">log-rank</text>
<text transform="translate(215.84,298.00) scale(0.811,1)" font-size="8.0" fill="#111" color="#111" font-weight="bold" font-style="italic">p</text>
<rect x="222.10" y="294.90" width="2.8" height="2.1" fill="#2a2a2a"/>
<text transform="translate(227.82,298.00) scale(0.902,1)" font-size="8.0" fill="#111" color="#111" font-weight="bold">0.69</text>
<polyline points="60.50,219.50 89.50,219.50 89.50,220.50 97.50,220.50 97.50,221.50 104.50,221.50 104.50,223.50 121.50,223.50 121.50,224.50 129.50,224.50 129.50,225.50 135.50,225.50 135.50,227.50 138.50,227.50 138.50,229.50 142.50,229.50 142.50,230.50 148.50,230.50 148.50,231.50 157.50,231.50 157.50,234.50 166.50,234.50 166.50,236.50 169.50,236.50 169.50,239.50 173.50,239.50 173.50,240.50 179.50,240.50 179.50,242.50 183.50,242.50 183.50,244.50 210.50,244.50 210.50,248.50 218.50,248.50 218.50,250.50 221.50,250.50 221.50,251.50 231.50,251.50 231.50,251.50" fill="none" stroke="#5ab0e4" stroke-width="1.0" stroke-linejoin="miter"/>
<polyline points="60.50,219.50 72.50,219.50 72.50,219.50 76.50,219.50 76.50,220.50 90.50,220.50 90.50,221.50 99.50,221.50 99.50,221.50 107.50,221.50 107.50,222.50 110.50,222.50 110.50,223.50 121.50,223.50 121.50,225.50 125.50,225.50 125.50,226.50 133.50,226.50 133.50,228.50 138.50,228.50 138.50,229.50 142.50,229.50 142.50,230.50 145.50,230.50 145.50,231.50 149.50,231.50 149.50,232.50 158.50,232.50 158.50,233.50 173.50,233.50 173.50,235.50 182.50,235.50 182.50,237.50 187.50,237.50 187.50,239.50 190.50,239.50 190.50,240.50 196.50,240.50 196.50,243.50 198.50,243.50 198.50,245.50 201.50,245.50 201.50,247.50 210.50,247.50 210.50,249.50 211.50,249.50 211.50,250.50 214.50,250.50 214.50,252.50 216.50,252.50 216.50,253.50 223.50,253.50 223.50,255.50 230.50,255.50 230.50,255.50" fill="none" stroke="#b04a2a" stroke-width="1.0" stroke-linejoin="miter"/>
<line x1="291.50" y1="212.10" x2="291.50" y2="305.00" stroke="#474747" stroke-width="1.0"/>
<line x1="291.00" y1="304.50" x2="479.80" y2="304.50" stroke="#474747" stroke-width="1.0"/>
<line x1="287.50" y1="221.50" x2="291.50" y2="221.50" stroke="#474747" stroke-width="1.0"/>
<path d="M275.24,223.85 L275.24,219.60 L274.19,220.20 L274.19,219.20 L275.34,218.35 L276.39,218.35 L276.39,223.85 Z" fill="#111"/>
<text transform="translate(277.39,223.85) scale(0.950,1)" font-size="8.0" fill="#111" color="#111" font-weight="bold">0</text>
<text transform="translate(281.39,223.85) scale(0.950,1)" font-size="8.0" fill="#111" color="#111" font-weight="bold">0</text>
<line x1="287.50" y1="238.50" x2="291.50" y2="238.50" stroke="#474747" stroke-width="1.0"/>
<text transform="translate(277.30,241.12) scale(0.950,1)" font-size="8.0" fill="#111" color="#111" font-weight="bold">7</text>
<text transform="translate(281.29,241.12) scale(0.950,1)" font-size="8.0" fill="#111" color="#111" font-weight="bold">5</text>
<line x1="287.50" y1="255.50" x2="291.50" y2="255.50" stroke="#474747" stroke-width="1.0"/>
<text transform="translate(277.37,258.40) scale(0.950,1)" font-size="8.0" fill="#111" color="#111" font-weight="bold">5</text>
<text transform="translate(281.39,258.40) scale(0.950,1)" font-size="8.0" fill="#111" color="#111" font-weight="bold">0</text>
<line x1="287.50" y1="273.50" x2="291.50" y2="273.50" stroke="#474747" stroke-width="1.0"/>
<text transform="translate(277.32,275.68) scale(0.950,1)" font-size="8.0" fill="#111" color="#111" font-weight="bold">2</text>
<text transform="translate(281.29,275.68) scale(0.950,1)" font-size="8.0" fill="#111" color="#111" font-weight="bold">5</text>
<line x1="287.50" y1="290.50" x2="291.50" y2="290.50" stroke="#474747" stroke-width="1.0"/>
<text transform="translate(281.39,292.95) scale(0.950,1)" font-size="8.0" fill="#111" color="#111" font-weight="bold">0</text>
<line x1="301.50" y1="304.50" x2="301.50" y2="308.50" stroke="#474747" stroke-width="1.0"/>
<text transform="translate(299.29,318.00) scale(0.950,1)" font-size="8.0" fill="#111" color="#111" font-weight="bold">0</text>
<line x1="317.50" y1="304.50" x2="317.50" y2="308.50" stroke="#474747" stroke-width="1.0"/>
<path d="M315.38,318.00 L315.38,313.75 L314.33,314.35 L314.33,313.35 L315.48,312.50 L316.53,312.50 L316.53,318.00 Z" fill="#111"/>
<text transform="translate(317.52,318.00) scale(0.950,1)" font-size="8.0" fill="#111" color="#111" font-weight="bold">0</text>
<line x1="333.50" y1="304.50" x2="333.50" y2="308.50" stroke="#474747" stroke-width="1.0"/>
<text transform="translate(329.77,318.00) scale(0.950,1)" font-size="8.0" fill="#111" color="#111" font-weight="bold">2</text>
<text transform="translate(333.75,318.00) scale(0.950,1)" font-size="8.0" fill="#111" color="#111" font-weight="bold">0</text>
<line x1="350.50" y1="304.50" x2="350.50" y2="308.50" stroke="#474747" stroke-width="1.0"/>
<text transform="translate(346.03,318.00) scale(0.950,1)" font-size="8.0" fill="#111" color="#111" font-weight="bold">3</text>
<text transform="translate(349.98,318.00) scale(0.950,1)" font-size="8.0" fill="#111" color="#111" font-weight="bold">0</text>
<line x1="366.50" y1="304.50" x2="366.50" y2="308.50" stroke="#474747" stroke-width="1.0"/>
<text transform="translate(362.17,318.00) scale(0.950,1)" font-size="8.0" fill="#111" color="#111" font-weight="bold">4</text>
<text transform="translate(366.21,318.00) scale(0.950,1)" font-size="8.0" fill="#111" color="#111" font-weight="bold">0</text>
<line x1="382.50" y1="304.50" x2="382.50" y2="308.50" stroke="#474747" stroke-width="1.0"/>
<text transform="translate(378.43,318.00) scale(0.950,1)" font-size="8.0" fill="#111" color="#111" font-weight="bold">5</text>
<text transform="translate(382.44,318.00) scale(0.950,1)" font-size="8.0" fill="#111" color="#111" font-weight="bold">0</text>
<line x1="398.50" y1="304.50" x2="398.50" y2="308.50" stroke="#474747" stroke-width="1.0"/>
<text transform="translate(394.66,318.00) scale(0.950,1)" font-size="8.0" fill="#111" color="#111" font-weight="bold">6</text>
<text transform="translate(398.67,318.00) scale(0.950,1)" font-size="8.0" fill="#111" color="#111" font-weight="bold">0</text>
<line x1="415.50" y1="304.50" x2="415.50" y2="308.50" stroke="#474747" stroke-width="1.0"/>
<text transform="translate(410.90,318.00) scale(0.950,1)" font-size="8.0" fill="#111" color="#111" font-weight="bold">7</text>
<text transform="translate(414.90,318.00) scale(0.950,1)" font-size="8.0" fill="#111" color="#111" font-weight="bold">0</text>
<line x1="431.50" y1="304.50" x2="431.50" y2="308.50" stroke="#474747" stroke-width="1.0"/>
<text transform="translate(427.12,318.00) scale(0.950,1)" font-size="8.0" fill="#111" color="#111" font-weight="bold">8</text>
<text transform="translate(431.13,318.00) scale(0.950,1)" font-size="8.0" fill="#111" color="#111" font-weight="bold">0</text>
<line x1="447.50" y1="304.50" x2="447.50" y2="308.50" stroke="#474747" stroke-width="1.0"/>
<text transform="translate(443.36,318.00) scale(0.950,1)" font-size="8.0" fill="#111" color="#111" font-weight="bold">9</text>
<text transform="translate(447.36,318.00) scale(0.950,1)" font-size="8.0" fill="#111" color="#111" font-weight="bold">0</text>
<line x1="463.50" y1="304.50" x2="463.50" y2="308.50" stroke="#474747" stroke-width="1.0"/>
<path d="M459.45,318.00 L459.45,313.75 L458.40,314.35 L458.40,313.35 L459.55,312.50 L460.60,312.50 L460.60,318.00 Z" fill="#111"/>
<text transform="translate(461.59,318.00) scale(0.950,1)" font-size="8.0" fill="#111" color="#111" font-weight="bold">0</text>
<text transform="translate(465.59,318.00) scale(0.950,1)" font-size="8.0" fill="#111" color="#111" font-weight="bold">0</text>
<text transform="translate(266.40,301.94) rotate(-90) scale(0.826,1)" font-size="8.0" fill="#111" color="#111" font-weight="bold">Endpoint-free probability, %</text>
<text transform="translate(373.54,330.10) scale(0.859,1)" font-size="8.0" fill="#111" color="#111" font-weight="bold">Months</text>
<text transform="translate(284.66,343.30) scale(0.825,1)" font-size="8.0" fill="#111" color="#111" font-weight="bold">Number at risk</text>
<text transform="translate(275.44,355.10) scale(0.894,1)" font-size="8.0" fill="#a63c1f" color="#a63c1f">C0</text>
<path d="M297.15,355.10 L297.15,350.85 L296.10,351.45 L296.10,350.45 L297.25,349.60 L298.30,349.60 L298.30,355.10 Z" fill="#111"/>
<path d="M301.15,355.10 L301.15,350.85 L300.10,351.45 L300.10,350.45 L301.25,349.60 L302.30,349.60 L302.30,355.10 Z" fill="#111"/>
<path d="M305.15,355.10 L305.15,350.85 L304.10,351.45 L304.10,350.45 L305.25,349.60 L306.30,349.60 L306.30,355.10 Z" fill="#111"/>
<path d="M313.38,355.10 L313.38,350.85 L312.33,351.45 L312.33,350.45 L313.48,349.60 L314.53,349.60 L314.53,355.10 Z" fill="#111"/>
<text transform="translate(315.52,355.10) scale(0.950,1)" font-size="8.0" fill="#111" color="#111" font-weight="bold">0</text>
<text transform="translate(319.51,355.10) scale(0.950,1)" font-size="8.0" fill="#111" color="#111" font-weight="bold">6</text>
<text transform="translate(329.74,355.10) scale(0.950,1)" font-size="8.0" fill="#111" color="#111" font-weight="bold">8</text>
<text transform="translate(333.75,355.10) scale(0.950,1)" font-size="8.0" fill="#111" color="#111" font-weight="bold">7</text>
<text transform="translate(345.98,355.10) scale(0.950,1)" font-size="8.0" fill="#111" color="#111" font-weight="bold">7</text>
<text transform="translate(349.98,355.10) scale(0.950,1)" font-size="8.0" fill="#111" color="#111" font-weight="bold">7</text>
<text transform="translate(362.20,355.10) scale(0.950,1)" font-size="8.0" fill="#111" color="#111" font-weight="bold">6</text>
<text transform="translate(366.20,355.10) scale(0.950,1)" font-size="8.0" fill="#111" color="#111" font-weight="bold">6</text>
<text transform="translate(378.43,355.10) scale(0.950,1)" font-size="8.0" fill="#111" color="#111" font-weight="bold">5</text>
<path d="M384.30,355.10 L384.30,350.85 L383.25,351.45 L383.25,350.45 L384.40,349.60 L385.45,349.60 L385.45,355.10 Z" fill="#111"/>
<text transform="translate(394.63,355.10) scale(0.950,1)" font-size="8.0" fill="#111" color="#111" font-weight="bold">4</text>
<text transform="translate(398.72,355.10) scale(0.950,1)" font-size="8.0" fill="#111" color="#111" font-weight="bold">3</text>
<text transform="translate(410.95,355.10) scale(0.950,1)" font-size="8.0" fill="#111" color="#111" font-weight="bold">3</text>
<text transform="translate(414.89,355.10) scale(0.950,1)" font-size="8.0" fill="#111" color="#111" font-weight="bold">5</text>
<text transform="translate(427.15,355.10) scale(0.950,1)" font-size="8.0" fill="#111" color="#111" font-weight="bold">2</text>
<text transform="translate(431.13,355.10) scale(0.950,1)" font-size="8.0" fill="#111" color="#111" font-weight="bold">9</text>
<path d="M445.22,355.10 L445.22,350.85 L444.17,351.45 L444.17,350.45 L445.32,349.60 L446.37,349.60 L446.37,355.10 Z" fill="#111"/>
<text transform="translate(447.35,355.10) scale(0.950,1)" font-size="8.0" fill="#111" color="#111" font-weight="bold">8</text>
<path d="M461.45,355.10 L461.45,350.85 L460.40,351.45 L460.40,350.45 L461.55,349.60 L462.60,349.60 L462.60,355.10 Z" fill="#111"/>
<text transform="translate(463.59,355.10) scale(0.950,1)" font-size="8.0" fill="#111" color="#111" font-weight="bold">0</text>
<text transform="translate(275.45,366.90) scale(0.849,1)" font-size="8.0" fill="#3d9ad8" color="#3d9ad8">C1</text>
<path d="M297.15,366.90 L297.15,362.65 L296.10,363.25 L296.10,362.25 L297.25,361.40 L298.30,361.40 L298.30,366.90 Z" fill="#111"/>
<path d="M301.15,366.90 L301.15,362.65 L300.10,363.25 L300.10,362.25 L301.25,361.40 L302.30,361.40 L302.30,366.90 Z" fill="#111"/>
<text transform="translate(303.29,366.90) scale(0.950,1)" font-size="8.0" fill="#111" color="#111" font-weight="bold">7</text>
<path d="M313.38,366.90 L313.38,362.65 L312.33,363.25 L312.33,362.25 L313.48,361.40 L314.53,361.40 L314.53,366.90 Z" fill="#111"/>
<text transform="translate(315.52,366.90) scale(0.950,1)" font-size="8.0" fill="#111" color="#111" font-weight="bold">0</text>
<text transform="translate(319.51,366.90) scale(0.950,1)" font-size="8.0" fill="#111" color="#111" font-weight="bold">8</text>
<text transform="translate(329.74,366.90) scale(0.950,1)" font-size="8.0" fill="#111" color="#111" font-weight="bold">8</text>
<text transform="translate(333.74,366.90) scale(0.950,1)" font-size="8.0" fill="#111" color="#111" font-weight="bold">8</text>
<text transform="translate(345.97,366.90) scale(0.950,1)" font-size="8.0" fill="#111" color="#111" font-weight="bold">8</text>
<text transform="translate(350.03,366.90) scale(0.950,1)" font-size="8.0" fill="#111" color="#111" font-weight="bold">3</text>
<text transform="translate(362.20,366.90) scale(0.950,1)" font-size="8.0" fill="#111" color="#111" font-weight="bold">6</text>
<path d="M368.07,366.90 L368.07,362.65 L367.02,363.25 L367.02,362.25 L368.17,361.40 L369.22,361.40 L369.22,366.90 Z" fill="#111"/>
<text transform="translate(378.43,366.90) scale(0.950,1)" font-size="8.0" fill="#111" color="#111" font-weight="bold">5</text>
<path d="M384.30,366.90 L384.30,362.65 L383.25,363.25 L383.25,362.25 L384.40,361.40 L385.45,361.40 L385.45,366.90 Z" fill="#111"/>
<text transform="translate(394.63,366.90) scale(0.950,1)" font-size="8.0" fill="#111" color="#111" font-weight="bold">4</text>
<text transform="translate(398.66,366.90) scale(0.950,1)" font-size="8.0" fill="#111" color="#111" font-weight="bold">5</text>
<text transform="translate(410.95,366.90) scale(0.950,1)" font-size="8.0" fill="#111" color="#111" font-weight="bold">3</text>
<text transform="translate(414.89,366.90) scale(0.950,1)" font-size="8.0" fill="#111" color="#111" font-weight="bold">8</text>
<text transform="translate(427.18,366.90) scale(0.950,1)" font-size="8.0" fill="#111" color="#111" font-weight="bold">3</text>
<text transform="translate(431.09,366.90) scale(0.950,1)" font-size="8.0" fill="#111" color="#111" font-weight="bold">4</text>
<text transform="translate(443.38,366.90) scale(0.950,1)" font-size="8.0" fill="#111" color="#111" font-weight="bold">2</text>
<text transform="translate(447.32,366.90) scale(0.950,1)" font-size="8.0" fill="#111" color="#111" font-weight="bold">4</text>
<path d="M461.45,366.90 L461.45,362.65 L460.40,363.25 L460.40,362.25 L461.55,361.40 L462.60,361.40 L462.60,366.90 Z" fill="#111"/>
<text transform="translate(463.59,366.90) scale(0.950,1)" font-size="8.0" fill="#111" color="#111" font-weight="bold">7</text>
<text transform="translate(260.36,379.90) scale(1.116,1)" font-size="9.6" fill="#111" color="#111" font-weight="bold" style="stroke-width:0.55px">d</text>
<text transform="translate(346.62,379.00) scale(0.864,1)" font-size="8.0" fill="#111" color="#111" font-weight="bold">C0/1 in Hh group</text>
<line x1="298.00" y1="285.50" x2="314.80" y2="285.50" stroke="#b04a2a" stroke-width="1.0"/>
<text transform="translate(317.92,287.70) scale(0.926,1)" font-size="8.0" fill="#a63c1f" color="#a63c1f">C0</text>
<line x1="298.00" y1="296.50" x2="314.80" y2="296.50" stroke="#7cc0ea" stroke-width="1.0"/>
<text transform="translate(317.96,297.80) scale(0.828,1)" font-size="8.0" fill="#3d9ad8" color="#3d9ad8">C1</text>
<text transform="translate(448.63,290.00) scale(0.842,1)" font-size="8.0" fill="#111" color="#111" font-weight="bold">log-rank</text>
<text transform="translate(448.84,298.70) scale(0.811,1)" font-size="8.0" fill="#111" color="#111" font-weight="bold" font-style="italic">p</text>
<rect x="455.10" y="295.60" width="2.8" height="2.1" fill="#2a2a2a"/>
<text transform="translate(460.83,298.70) scale(0.858,1)" font-size="8.0" fill="#111" color="#111" font-weight="bold">0.2</text>
<polyline points="301.50,221.50 311.50,221.50 311.50,221.50 336.50,221.50 336.50,222.50 348.50,222.50 348.50,223.50 370.50,223.50 370.50,225.50 381.50,225.50 381.50,227.50 386.50,227.50 386.50,229.50 394.50,229.50 394.50,231.50 412.50,231.50 412.50,233.50 414.50,233.50 414.50,234.50 424.50,234.50 424.50,236.50 434.50,236.50 434.50,239.50 436.50,239.50 436.50,241.50 439.50,241.50 439.50,244.50 440.50,244.50 440.50,251.50 453.50,251.50 453.50,260.50 461.50,260.50 461.50,264.50 463.50,264.50 463.50,264.50" fill="none" stroke="#b04a2a" stroke-width="1.0" stroke-linejoin="miter"/>
<polyline points="301.50,221.50 311.50,221.50 311.50,222.50 317.50,222.50 317.50,222.50 346.50,222.50 346.50,223.50 350.50,223.50 350.50,224.50 369.50,224.50 369.50,227.50 388.50,227.50 388.50,229.50 394.50,229.50 394.50,230.50 416.50,230.50 416.50,235.50 423.50,235.50 423.50,238.50 443.50,238.50 443.50,245.50 445.50,245.50 445.50,249.50 446.50,249.50 446.50,256.50 454.50,256.50 454.50,266.50 464.50,266.50 464.50,266.50" fill="none" stroke="#5ab0e4" stroke-width="1.0" stroke-linejoin="miter"/>
</svg>
</body></html>
